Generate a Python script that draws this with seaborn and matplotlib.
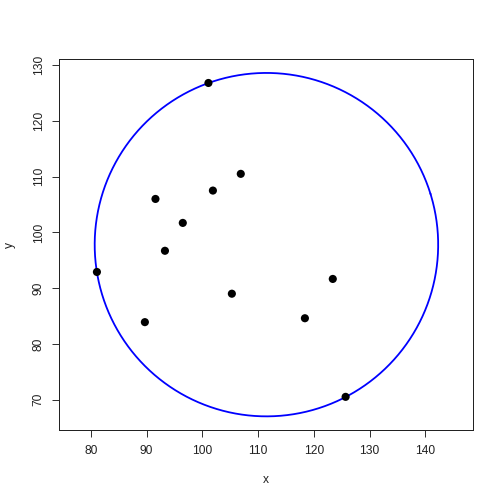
import numpy as np
import pandas as pd
import matplotlib
matplotlib.use("Agg")
import matplotlib.pyplot as plt
import seaborn as sns

x_vals = [101.1, 106.9, 101.9, 91.6, 96.5, 93.3, 81.1, 123.4, 105.3, 89.7, 118.4, 125.7]
y_vals = [126.8, 110.5, 107.5, 106.0, 101.7, 96.7, 92.9, 91.65, 89.0, 83.9, 84.6, 70.5]
circle_center = [111.5, 97.8]
circle_radius = 30.8
x_ticks = [80, 90, 100, 110, 120, 130, 140]
y_ticks = [70, 80, 90, 100, 110, 120, 130]

sns.set_style("white")
plt.rcParams['font.family'] = ['Liberation Sans', 'DejaVu Sans']

df = pd.DataFrame({"x": x_vals, "y": y_vals})

fig = plt.figure(figsize=(7, 7), dpi=72)
ax = fig.add_axes([59/504, 1 - 430.3/504, (473.3 - 59)/504, (430.3 - 59)/504])

theta = np.linspace(0.3, 0.3 + 2*np.pi, 500)
cx = circle_center[0] + circle_radius*np.cos(theta)
cy = circle_center[1] + circle_radius*np.sin(theta)
ax.plot(cx, cy, color="#0000FF", lw=1.8, solid_capstyle="round", solid_joinstyle="round")

sns.scatterplot(data=df, x="x", y="y", ax=ax, color="black", s=66,
                edgecolor="none", linewidth=0, zorder=3)

ax.set_xlim(74.3, 148.6)
ax.set_ylim(64.5, 131.1)
ax.set_xticks(x_ticks)
ax.set_yticks(y_ticks)
ax.set_xticklabels([str(v) for v in x_ticks])
ax.set_yticklabels([str(v) for v in y_ticks], rotation=90, va="center")
ax.tick_params(axis="both", direction="out", length=7.2, width=1, color="#333333",
               labelsize=12, pad=7, bottom=True, left=True, labelcolor="#222222")
for s in ax.spines.values():
    s.set_visible(True)
    s.set_color("#222222")
    s.set_linewidth(1)
ax.set_xlabel("x", fontsize=12, labelpad=17, color="#222222")
ax.set_ylabel("y", fontsize=12, labelpad=17, color="#222222")

fig.savefig("out.png", dpi=72)
